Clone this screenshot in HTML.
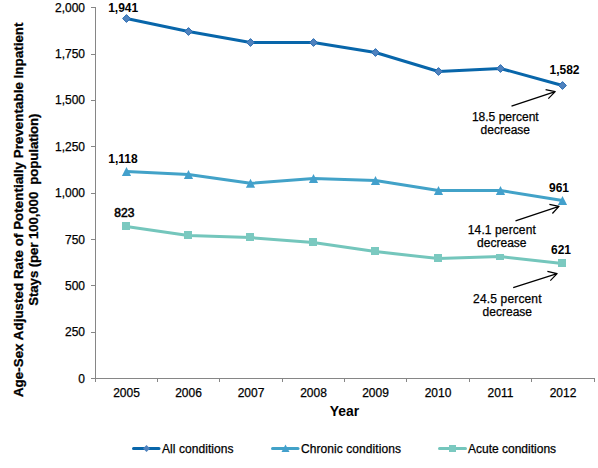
<!DOCTYPE html><html><head><meta charset="utf-8"><style>html,body{margin:0;padding:0;background:#fff;}svg{display:block;}text{font-family:"Liberation Sans",sans-serif;stroke:#000;stroke-width:0.25px;} text[font-weight=bold]{stroke:none;} text.t{stroke:#000;stroke-width:0.3px;}</style></head><body>
<svg width="598" height="468" viewBox="0 0 598 468">
<rect width="598" height="468" fill="#fff"/>
<g stroke="#868686" stroke-width="1" fill="none" shape-rendering="crispEdges">
<path d="M95.5 7 V379 M95 378.5 H595"/>
<path d="M91 7.5 H95"/>
<path d="M91 54.5 H95"/>
<path d="M91 100.5 H95"/>
<path d="M91 146.5 H95"/>
<path d="M91 193.5 H95"/>
<path d="M91 239.5 H95"/>
<path d="M91 285.5 H95"/>
<path d="M91 332.5 H95"/>
<path d="M91 378.5 H95"/>
<path d="M95.5 378 V382"/>
<path d="M157.5 378 V382"/>
<path d="M219.5 378 V382"/>
<path d="M282.5 378 V382"/>
<path d="M344.5 378 V382"/>
<path d="M406.5 378 V382"/>
<path d="M469.5 378 V382"/>
<path d="M531.5 378 V382"/>
<path d="M594.5 378 V382"/>
</g>
<g font-size="12" fill="#000" text-anchor="end">
<text x="85" y="12">2,000</text>
<text x="85" y="58">1,750</text>
<text x="85" y="104">1,500</text>
<text x="85" y="151">1,250</text>
<text x="85" y="197">1,000</text>
<text x="85" y="244">750</text>
<text x="85" y="290">500</text>
<text x="85" y="336">250</text>
<text x="85" y="383">0</text>
</g>
<g font-size="12" fill="#000" text-anchor="middle">
<text x="126.5" y="397">2005</text>
<text x="188.5" y="397">2006</text>
<text x="251.0" y="397">2007</text>
<text x="313.5" y="397">2008</text>
<text x="375.5" y="397">2009</text>
<text x="438.0" y="397">2010</text>
<text x="500.5" y="397">2011</text>
<text x="563.0" y="397">2012</text>
</g>
<text x="344.5" y="415.5" font-size="13.9" font-weight="bold" text-anchor="middle">Year</text>
<text class="t" transform="translate(23.1 209.8) rotate(-90)" font-size="13.33" font-weight="bold" text-anchor="middle" textLength="374.6" lengthAdjust="spacing" xml:space="preserve">Age-Sex Adjusted Rate of Potentially Preventable Inpatient</text>
<text class="t" transform="translate(38.1 209.6) rotate(-90)" font-size="13.33" font-weight="bold" text-anchor="middle" textLength="192.3" lengthAdjust="spacing" xml:space="preserve">Stays (per 100,000  population)</text>
<polyline points="126.5,18.5 188.5,31.5 250.5,42.5 313.5,42.5 375.5,52.5 438.5,71.5 500.5,68.5 562.5,85.5" fill="none" stroke="#0866AA" stroke-width="3" stroke-linejoin="round"/>
<polyline points="126.5,171.5 188.5,174.5 250.5,183.3 313.5,178.5 375.5,180.5 438.5,190.5 500.5,190.5 562.5,200.4" fill="none" stroke="#42A2C8" stroke-width="3" stroke-linejoin="round"/>
<polyline points="126.3,226.6 188.3,235.6 250.3,237.6 313.3,242.6 375.3,251.6 438.3,258.6 500.3,256.6 562.3,263.6" fill="none" stroke="#74C6BC" stroke-width="3" stroke-linejoin="round"/>
<path d="M126.5 14.6 L130.4 18.5 L126.5 22.4 L122.6 18.5 Z" fill="#4F82BE" stroke="#2A6DB3" stroke-width="1"/>
<path d="M188.5 27.6 L192.4 31.5 L188.5 35.4 L184.6 31.5 Z" fill="#4F82BE" stroke="#2A6DB3" stroke-width="1"/>
<path d="M250.5 38.6 L254.4 42.5 L250.5 46.4 L246.6 42.5 Z" fill="#4F82BE" stroke="#2A6DB3" stroke-width="1"/>
<path d="M313.5 38.6 L317.4 42.5 L313.5 46.4 L309.6 42.5 Z" fill="#4F82BE" stroke="#2A6DB3" stroke-width="1"/>
<path d="M375.5 48.6 L379.4 52.5 L375.5 56.4 L371.6 52.5 Z" fill="#4F82BE" stroke="#2A6DB3" stroke-width="1"/>
<path d="M438.5 67.6 L442.4 71.5 L438.5 75.4 L434.6 71.5 Z" fill="#4F82BE" stroke="#2A6DB3" stroke-width="1"/>
<path d="M500.5 64.6 L504.4 68.5 L500.5 72.4 L496.6 68.5 Z" fill="#4F82BE" stroke="#2A6DB3" stroke-width="1"/>
<path d="M562.5 81.6 L566.4 85.5 L562.5 89.4 L558.6 85.5 Z" fill="#4F82BE" stroke="#2A6DB3" stroke-width="1"/>
<path d="M126.5 167.0 L131.1 176.0 L121.9 176.0 Z" fill="#43A0CC"/>
<path d="M188.5 170.0 L193.1 179.0 L183.9 179.0 Z" fill="#43A0CC"/>
<path d="M250.5 178.8 L255.1 187.8 L245.9 187.8 Z" fill="#43A0CC"/>
<path d="M313.5 174.0 L318.1 183.0 L308.9 183.0 Z" fill="#43A0CC"/>
<path d="M375.5 176.0 L380.1 185.0 L370.9 185.0 Z" fill="#43A0CC"/>
<path d="M438.5 186.0 L443.1 195.0 L433.9 195.0 Z" fill="#43A0CC"/>
<path d="M500.5 186.0 L505.1 195.0 L495.9 195.0 Z" fill="#43A0CC"/>
<path d="M562.5 195.9 L567.1 204.9 L557.9 204.9 Z" fill="#43A0CC"/>
<rect x="122" y="222" width="8" height="8" fill="#7BC9C0"/>
<rect x="184" y="231" width="8" height="8" fill="#7BC9C0"/>
<rect x="246" y="233" width="8" height="8" fill="#7BC9C0"/>
<rect x="309" y="238" width="8" height="8" fill="#7BC9C0"/>
<rect x="371" y="247" width="8" height="8" fill="#7BC9C0"/>
<rect x="434" y="254" width="8" height="8" fill="#7BC9C0"/>
<rect x="496" y="252" width="8" height="8" fill="#7BC9C0"/>
<rect x="558" y="259" width="8" height="8" fill="#7BC9C0"/>
<g font-size="12" fill="#000" text-anchor="middle">
<text x="123.2" y="12" font-weight="bold">1,941</text>
<text x="122.9" y="163" font-weight="bold">1,118</text>
<text x="124.3" y="217" style="stroke-width:0.55px">823</text>
<text x="564.5" y="74" font-weight="bold">1,582</text>
<text x="559" y="191.5" font-weight="bold">961</text>
<text x="561" y="254" font-weight="bold">621</text>
</g>
<rect x="466" y="222" width="72" height="32" fill="#fff"/>
<g font-size="12" fill="#000" text-anchor="middle">
<text x="505.3" y="120.8">18.5 percent</text><text x="505.3" y="134.2">decrease</text>
<text x="501.8" y="234.1" textLength="68" lengthAdjust="spacing">14.1 percent</text><text x="501.8" y="247.2">decrease</text>
<text x="507.3" y="303.2" textLength="68.5" lengthAdjust="spacing">24.5 percent</text><text x="507.3" y="316.2">decrease</text>
</g>
<path d="M511.5 106.1 L555.2 91.6 M545.6 89.6 L555.2 91.6 L548.3 98.6" fill="none" stroke="#000" stroke-width="1.25" stroke-linejoin="round"/>
<path d="M515.5 220.9 L559.0 206.4 M549.4 204.4 L559.0 206.4 L552.4 213.5" fill="none" stroke="#000" stroke-width="1.25" stroke-linejoin="round"/>
<path d="M513.2 287.7 L557.1 273.6 M547.4 271.3 L557.1 273.6 L550.3 280.6" fill="none" stroke="#000" stroke-width="1.25" stroke-linejoin="round"/>
<path d="M133.5 448.5 H159" stroke="#0866AA" stroke-width="3" stroke-linecap="round"/>
<path d="M146.5 445 L150 448.5 L146.5 452 L143 448.5 Z" fill="#4F82BE"/>
<path d="M272.5 448.5 H298" stroke="#42A2C8" stroke-width="3" stroke-linecap="round"/>
<path d="M285.5 444.5 L289.5 452 L281.5 452 Z" fill="#43A0CC"/>
<path d="M439.5 448.5 H465.5" stroke="#74C6BC" stroke-width="3" stroke-linecap="round"/>
<rect x="449" y="445" width="7" height="7" fill="#7BC9C0"/>
<g font-size="12" fill="#000">
<text x="162" y="453" textLength="71.5" lengthAdjust="spacing">All conditions</text>
<text x="301" y="453" textLength="100" lengthAdjust="spacing">Chronic conditions</text>
<text x="468" y="453">Acute conditions</text>
</g>
</svg></body></html>
